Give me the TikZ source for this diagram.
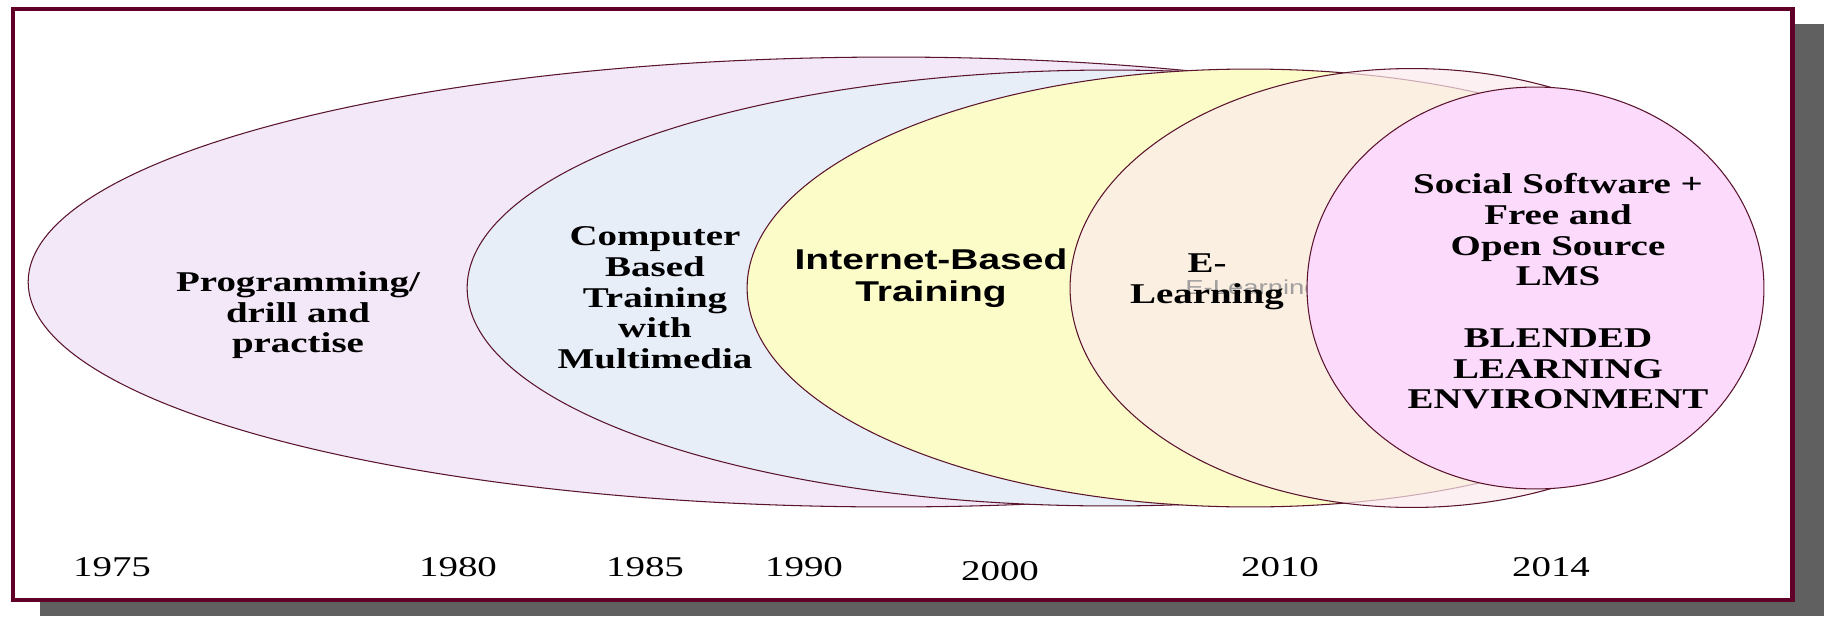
\documentclass[tikz,border=0pt]{standalone}
\usepackage{fontspec}
\usepackage{graphicx}
\setmainfont{Liberation Serif}
\newfontfamily\arialfont{Liberation Sans}
\definecolor{framecol}{RGB}{96,0,40}
\definecolor{shadowcol}{RGB}{96,96,96}
\definecolor{lavcol}{RGB}{242,232,248}
\definecolor{bluecol}{RGB}{232,238,248}
\definecolor{yelcol}{RGB}{251,252,200}
\definecolor{peachcol}{RGB}{252,234,238}
\definecolor{pinkcol}{RGB}{252,218,252}
\definecolor{edgecol}{RGB}{90,20,45}
\definecolor{ghostcol}{RGB}{160,158,158}
\newcommand{\stretchtext}[1]{\scalebox{1.36}[1]{\begin{tabular}{@{}c@{}}#1\end{tabular}}}
\begin{document}
\begin{tikzpicture}[x=0.02cm,y=-0.02cm,
  blob/.style={draw=edgecol,line width=0.6pt},
  boldtxt/.style={inner sep=0pt,font=\bfseries\fontsize{16.3}{17.5}\selectfont},
  sanstxt/.style={inner sep=0pt,font=\arialfont\bfseries\fontsize{16.3}{18.1}\selectfont},
  yeartxt/.style={inner sep=0pt,anchor=base,font=\fontsize{16.3}{17.3}\selectfont},
  ghosttxt/.style={inner sep=0pt,anchor=base west,text=ghostcol,font=\arialfont\fontsize{11.5}{13}\selectfont}]
\useasboundingbox (0,0) rectangle (1830,616);
\fill[white] (0,0) rectangle (1830,616);
\fill[shadowcol] (40,24) rectangle (1824,616);
\draw[framecol,line width=2.83pt,fill=white] (13,9) rectangle (1792,600);
% nested ellipses
\draw[blob,fill=lavcol] (891,282) ellipse [x radius=17.26cm, y radius=4.5cm];
\draw[blob,fill=bluecol] (1110,288) ellipse [x radius=12.86cm, y radius=4.36cm];
\draw[blob,fill=yelcol] (1250,288) ellipse [x radius=10.06cm, y radius=4.38cm];
\draw[blob,fill=peachcol,fill opacity=0.71] (1412,288) ellipse [x radius=6.84cm, y radius=4.39cm];
\node[ghosttxt] (ghost) at (1185,294) {\scalebox{1.36}[1]{E-Learning}};
\draw[blob,fill=pinkcol] (1535.5,288) ellipse [x radius=4.57cm, y radius=4.02cm];
% texts
\node[boldtxt] (prog) at (298,316) {\stretchtext{Programming/\\drill and\\practise}};
\node[boldtxt] (cbt) at (655,301) {\stretchtext{Computer\\Based\\Training\\with\\Multimedia}};
\node[sanstxt] (ibt) at (931,279) {\stretchtext{Internet-Based\\Training}};
\node[boldtxt] (elearn) at (1207,282) {\stretchtext{E-\\Learning}};
\node[boldtxt] (social) at (1558,295) {\stretchtext{Social Software +\\Free and\\Open Source\\LMS\\ \\BLENDED\\LEARNING\\ENVIRONMENT}};
% years
\node[yeartxt] (y1975) at (112,576) {\scalebox{1.36}[1]{1975}};
\node[yeartxt] (y1980) at (458,576) {\scalebox{1.36}[1]{1980}};
\node[yeartxt] (y1985) at (645,576) {\scalebox{1.36}[1]{1985}};
\node[yeartxt] (y1990) at (804,576) {\scalebox{1.36}[1]{1990}};
\node[yeartxt] (y2000) at (1000,580) {\scalebox{1.36}[1]{2000}};
\node[yeartxt] (y2010) at (1280,576) {\scalebox{1.36}[1]{2010}};
\node[yeartxt] (y2014) at (1551,576) {\scalebox{1.36}[1]{2014}};
\end{tikzpicture}
\end{document}
